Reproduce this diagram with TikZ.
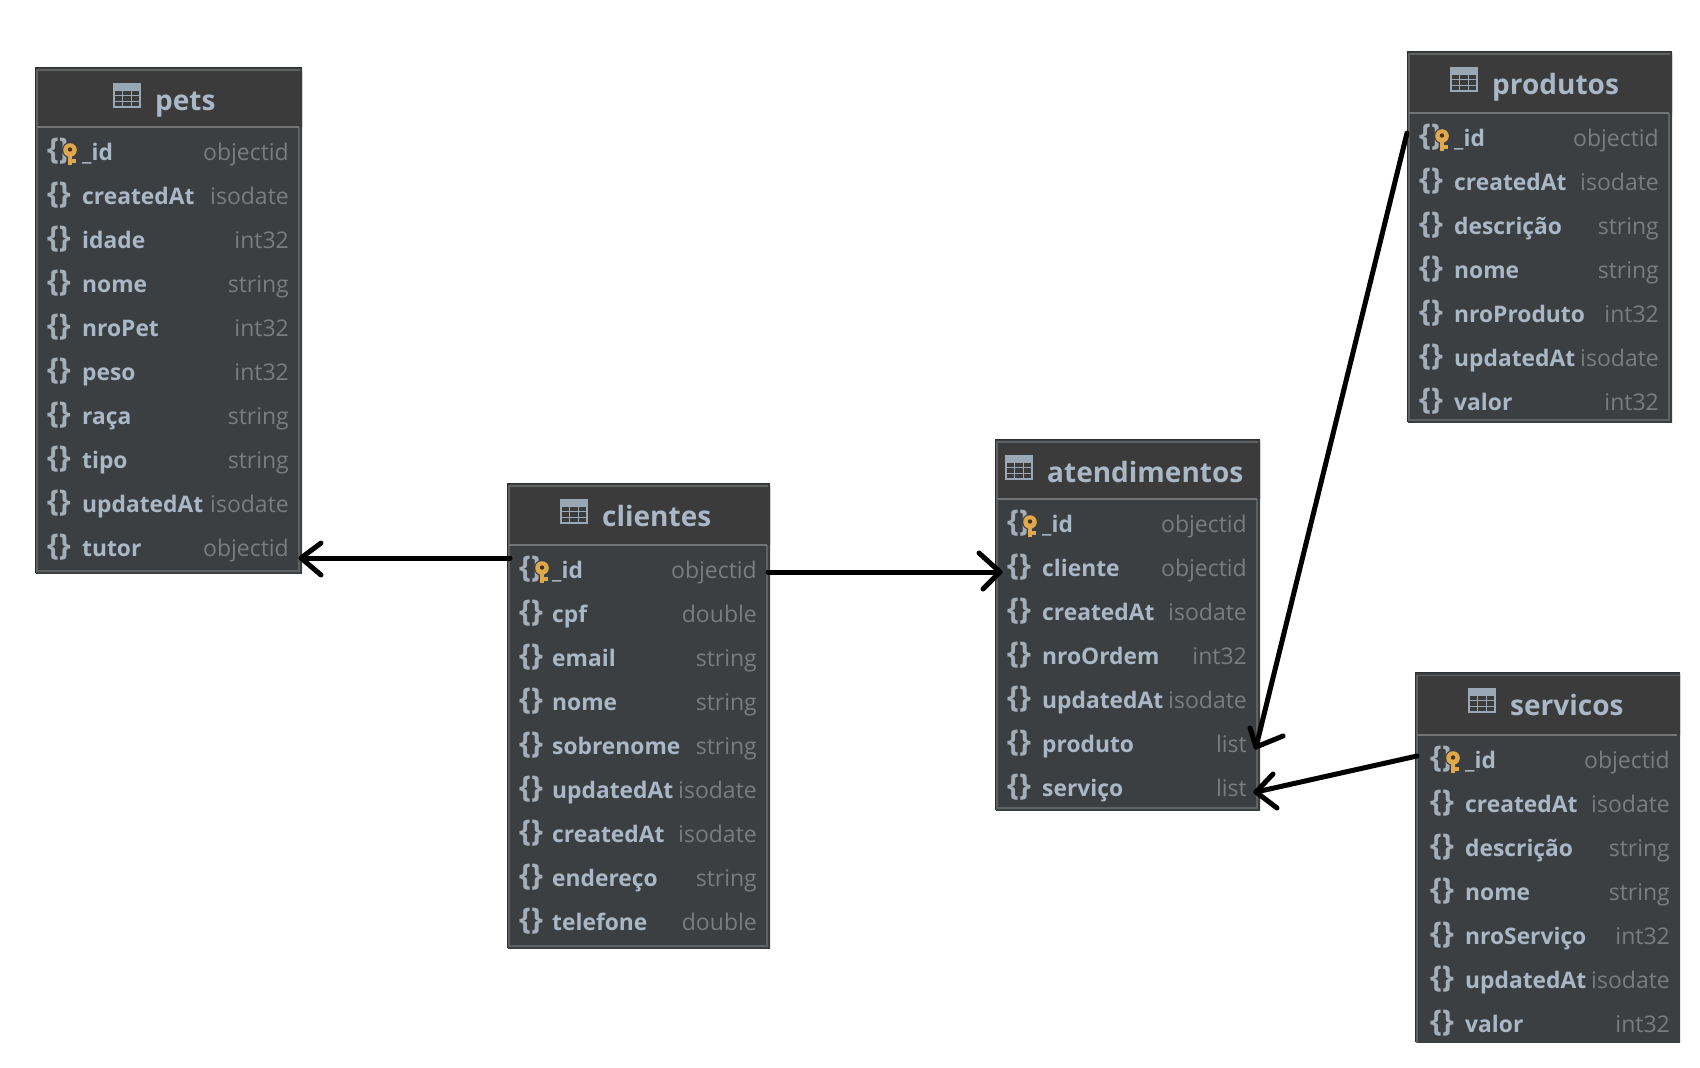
\documentclass[tikz,border=0pt]{standalone}
\usepackage{fontspec}
\setmainfont{Open Sans}
\definecolor{bodybg}{HTML}{3C3F41}
\definecolor{headbg}{HTML}{3B3B3B}
\definecolor{outer}{HTML}{2E2E2E}
\definecolor{inner}{HTML}{5F6163}
\definecolor{sepline}{HTML}{727476}
\definecolor{txt}{HTML}{A9B7C6}
\definecolor{typ}{HTML}{7A7D7F}
\definecolor{brace}{HTML}{A3AEB8}
\definecolor{keyc}{HTML}{E0A84E}
\definecolor{icon}{HTML}{9AA7B4}
\tikzset{
  tablebox/.style={fill=bodybg,draw=none,anchor=north west,inner sep=0pt,outer sep=0pt},
  titletext/.style={anchor=base west,inner sep=0pt,text=txt,font=\fontsize{28}{32}\selectfont\bfseries},
  rowname/.style={anchor=base west,inner sep=0pt,text=txt,font=\fontsize{22.8}{28}\selectfont\bfseries},
  rowtype/.style={anchor=base east,inner sep=0pt,text=typ,font=\fontsize{23}{28}\selectfont},
  rowicon/.style={anchor=base,inner sep=0pt,text=brace,font=\fontsize{30}{32}\selectfont\bfseries},
  arrowline/.style={draw=black,line width=5pt,line cap=round,line join=round},
}
% #1 name, #2 x, #3 y, #4 w, #5 h, #6 header bottom, #7 first row y, #8 title x, #9 rows
\newcommand{\dbtable}[9]{%
  \node[tablebox,minimum width=#4pt,minimum height=#5pt] (#1) at (#2,#3) {};
  \begin{scope}
    \clip (#2,#3) rectangle ++(#4,#5);
    \fill[outer] (#2,#3) rectangle ++(#4,#5);
    \fill[bodybg] (#2+1,#3+1) rectangle ++(#4+8,#5+8);
    \ifnum\pdfstrcmp{#1}{servicos}=0
      \gdef\rowshift{3}
      \draw[inner,line width=1.3pt] (#2+2,#3+4) rectangle ++(#4+10,#5+10);
    \else
      \gdef\rowshift{0}
      \draw[inner,line width=1.3pt] (#2+2,#3+3) rectangle ++(#4-5,#5-5);
    \fi
    \fill[headbg] (#2+3,#3+4) rectangle (#2+#4+6,#6);
    \draw[sepline,line width=2pt] (#2+2,#6) -- (#2+#4-3,#6);
  \end{scope}
  \ifnum\pdfstrcmp{#1}{clientes}=0 \gdef\nameshift{-2}\else \gdef\nameshift{0}\fi
  \node[titletext] (#1-title) at (#8,#3+43) {#1};
  % table icon
  \begin{scope}[shift={(#8-42,#3+17)}]
    \fill[icon] (0,0) rectangle (28,7);
    \draw[icon,line width=1.6pt] (0.8,0) rectangle (27.2,23.2);
    \draw[icon,line width=1.4pt] (0.8,11.5) -- (27.2,11.5) (0.8,17.5) -- (27.2,17.5)
      (9.5,7) -- (9.5,23) (18.5,7) -- (18.5,23);
  \end{scope}
  \foreach \nm/\ty [count=\i from 0] in {#9} {
    \pgfmathsetmacro{\ry}{#7+44*\i}
    \node[rowicon] (#1-icon\i) at (#2+24+\rowshift,\ry+7) {\{\}};
    \node[rowname] (#1-name\i) at (#2+47+\rowshift+\nameshift,\ry+8) {\nm};
    \node[rowtype] (#1-type\i) at (#2+#4-12+\rowshift-1,\ry+8) {\ty};
    \ifnum\i=0
      \begin{scope}[shift={(#2+35+\rowshift,\ry-2)}]
        \fill[bodybg] (0,0) circle (8);
        \fill[keyc] (0,0) circle (6.8);
        \fill[keyc] (-2.4,0) rectangle (2.4,15);
        \fill[keyc] (2,9) rectangle (6,12.5);
        \fill[black!70!keyc] (0,-0.5) circle (2.2);
      \end{scope}
    \fi
  };
}
\begin{document}
\begin{tikzpicture}[x=1pt,y=-1pt]
\useasboundingbox (0,0) rectangle (1700,1068);
\fill[white] (0,0) rectangle (1700,1068);

\dbtable{pets}{35}{67}{267}{506}{127}{152}{155}{\_id/objectid,createdAt/isodate,idade/int32,nome/string,nroPet/int32,peso/int32,raça/string,tipo/string,updatedAt/isodate,tutor/objectid}
\dbtable{clientes}{507}{483}{263}{465}{545}{570}{602}{\_id/objectid,cpf/double,email/string,nome/string,sobrenome/string,updatedAt/isodate,createdAt/isodate,endereço/string,telefone/double}
\dbtable{atendimentos}{995}{439}{265}{371}{499}{524}{1047}{\_id/objectid,cliente/objectid,createdAt/isodate,nroOrdem/int32,updatedAt/isodate,produto/list,serviço/list}
\dbtable{produtos}{1407}{51}{265}{371}{113}{138}{1492}{\_id/objectid,createdAt/isodate,descrição/string,nome/string,nroProduto/int32,updatedAt/isodate,valor/int32}
\dbtable{servicos}{1415}{672}{265}{370}{735}{760}{1510}{\_id/objectid,createdAt/isodate,descrição/string,nome/string,nroServiço/int32,updatedAt/isodate,valor/int32}

% connector ends on the table edges
\coordinate (c1s) at (510,558);   \coordinate (c1e) at (301,558);
\coordinate (c1a) at (321,543);   \coordinate (c1b) at (321,575);
\coordinate (c2s) at (768,572);   \coordinate (c2e) at (1000,572);
\coordinate (c2a) at (979,553);   \coordinate (c2b) at (983,589);
\coordinate (c3s) at (1407,133);  \coordinate (c3e) at (1256,747);
\coordinate (c3a) at (1250,728);  \coordinate (c3b) at (1283,736);
\coordinate (c4s) at (1417,756);  \coordinate (c4e) at (1256,792);
\coordinate (c4a) at (1273,774);  \coordinate (c4b) at (1277,808);

\draw[arrowline] (c1s) -- (c1e);
\draw[arrowline] (c1a) -- (c1e) -- (c1b);
\draw[arrowline] (c2s) -- (c2e);
\draw[arrowline] (c2a) -- (c2e) -- (c2b);
\draw[arrowline] (c3s) -- (c3e);
\draw[arrowline] (c3a) -- (c3e) -- (c3b);
\draw[arrowline] (c4s) -- (c4e);
\draw[arrowline] (c4a) -- (c4e) -- (c4b);
\end{tikzpicture}
\end{document}
